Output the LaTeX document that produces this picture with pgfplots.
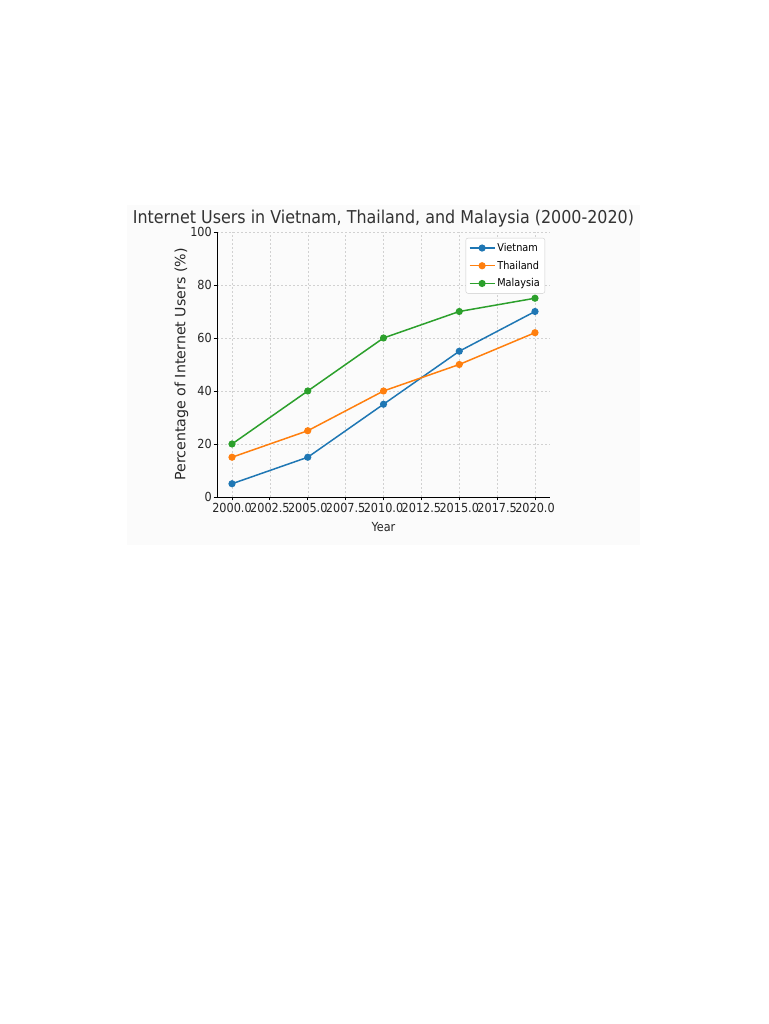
\documentclass[border=0pt]{standalone}
\usepackage{fontspec}
\setmainfont{DejaVu Sans Condensed}
\newfontfamily\widefont{DejaVu Sans}
\usepackage{pgfplots}
\pgfplotsset{compat=1.18}
\definecolor{tabblue}{HTML}{1F77B4}
\definecolor{taborange}{HTML}{FF7F0E}
\definecolor{tabgreen}{HTML}{2CA02C}
\begin{document}
\begin{tikzpicture}
\path[use as bounding box, fill=white] (0,0) rectangle (768pt,1024pt);
\fill[black!1.5] (127pt,{1024pt-545pt}) rectangle (640pt,{1024pt-205pt});
\begin{axis}[
  at={(217pt,527pt)}, anchor=south west,
  scale only axis, width=333pt, height=265pt,
  xmin=1999.01, xmax=2020.99, ymin=0, ymax=100,
  axis x line*=bottom, axis y line*=left,
  axis line style={black, line width=0.8pt},
  tick align=outside, tick style={black, line width=0.8pt}, major tick length=3.5pt,
  xtick={2000,2002.5,2005,2007.5,2010,2012.5,2015,2017.5,2020},
  xticklabels={2000.0,2002.5,2005.0,2007.5,2010.0,2012.5,2015.0,2017.5,2020.0},
  ytick={0,20,40,60,80,100},
  /pgf/number format/assume math mode=true,
  ticklabel style={font=\fontsize{12.5}{14}\selectfont, text=black!85},
  xticklabel style={yshift=1pt, inner xsep=0pt},
  yticklabel style={inner xsep=1.5pt},
  grid=major, grid style={dash pattern=on 2pt off 2pt, black!18, line width=0.5pt},
  xlabel={Year}, xlabel style={font=\fontsize{12.5}{14}\selectfont, text=black!85, yshift=-3pt},
  ylabel={Percentage of Internet Users (\%)},
  ylabel style={font=\widefont\fontsize{14.2}{16}\selectfont, text=black!85, yshift=-3pt},
  title={Internet Users in Vietnam, Thailand, and Malaysia (2000-2020)},
  title style={font=\fontsize{17.7}{20}\selectfont, text=black!80, yshift=-5pt},
  legend style={at={(axis description cs:1,1)}, anchor=north east, xshift=-5pt, yshift=-6pt,
    font=\fontsize{10.8}{12}\selectfont, draw=black!20, rounded corners=2pt, fill=white,
    row sep=4pt, inner sep=3pt},
  legend cell align=left,
  legend image code/.code={\draw[line width=1.5pt, mark repeat=2,mark phase=2] plot coordinates {(0pt,0pt) (12.5pt,0pt) (25pt,0pt)};},
]
\addplot[tabblue, line width=1.5pt, mark=*, mark size=2.8pt, mark options={fill=tabblue}] coordinates {(2000,5) (2005,15) (2010,35) (2015,55) (2020,70)};
\addlegendentry{Vietnam}
\addplot[taborange, line width=1.5pt, mark=*, mark size=2.8pt, mark options={fill=taborange}] coordinates {(2000,15) (2005,25) (2010,40) (2015,50) (2020,62)};
\addlegendentry{Thailand}
\addplot[tabgreen, line width=1.5pt, mark=*, mark size=2.8pt, mark options={fill=tabgreen}] coordinates {(2000,20) (2005,40) (2010,60) (2015,70) (2020,75)};
\addlegendentry{Malaysia}
\end{axis}
\end{tikzpicture}
\end{document}
